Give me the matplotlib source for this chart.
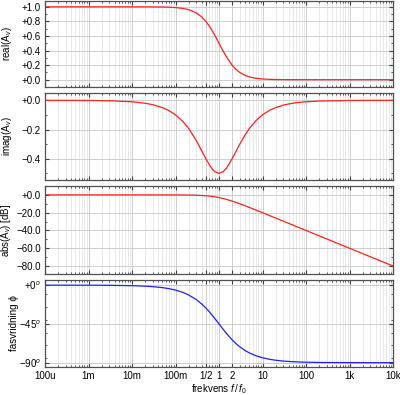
import numpy as np
import matplotlib
matplotlib.use('Agg')
import matplotlib.pyplot as plt
from matplotlib.ticker import FixedLocator, LogLocator, NullFormatter

plt.rcParams['font.family'] = ['Liberation Sans', 'DejaVu Sans']
plt.rcParams['font.size'] = 7.5
plt.rcParams['mathtext.fontset'] = 'custom'
plt.rcParams['mathtext.it'] = 'Liberation Sans:italic'
plt.rcParams['mathtext.rm'] = 'Liberation Sans'

# frequency f/f0 and values
freq = [1e-4, 1e-3, 0.003, 0.01, 0.02, 0.03, 0.05, 0.07, 0.1, 0.15, 0.2, 0.3, 0.4, 0.5,
        0.6, 0.7, 0.8, 1.0, 1.25, 1.5, 2, 2.5, 3, 4, 5, 7, 10, 15, 20, 30, 40, 50, 70,
        100, 200, 1000, 1e4]
real_av = [1.000, 1.000, 1.000, 0.9999, 0.9996, 0.9991, 0.9975, 0.9951, 0.990, 0.978,
           0.962, 0.917, 0.862, 0.800, 0.735, 0.671, 0.610, 0.500, 0.390, 0.308, 0.200,
           0.138, 0.100, 0.0588, 0.0385, 0.020, 0.0099, 0.0044, 0.0025, 0.0011, 0.0006,
           0.0004, 0.0002, 0.0001, 0.0, 0.0, 0.0]
imag_av = [-0.0001, -0.001, -0.003, -0.010, -0.020, -0.030, -0.0499, -0.0697, -0.099,
           -0.147, -0.192, -0.275, -0.345, -0.400, -0.441, -0.470, -0.488, -0.500,
           -0.488, -0.462, -0.400, -0.345, -0.300, -0.235, -0.192, -0.140, -0.099,
           -0.066, -0.050, -0.033, -0.025, -0.020, -0.0143, -0.010, -0.005, -0.001,
           -0.0001]
abs_db = [0.0, 0.0, 0.0, -0.0004, -0.0017, -0.0039, -0.011, -0.0212, -0.043, -0.097,
          -0.170, -0.374, -0.645, -0.969, -1.335, -1.73, -2.15, -3.01, -4.09, -5.12,
          -6.99, -8.60, -10.0, -12.30, -14.15, -16.99, -20.04, -23.54, -26.03, -29.55,
          -32.04, -33.98, -36.90, -40.0, -46.02, -60.0, -80.0]
phase = [-0.006, -0.06, -0.17, -0.57, -1.15, -1.72, -2.86, -4.00, -5.71, -8.53, -11.31,
         -16.70, -21.80, -26.57, -30.96, -34.99, -38.66, -45.0, -51.34, -56.31, -63.43,
         -68.20, -71.57, -75.96, -78.69, -81.87, -84.29, -86.19, -87.14, -88.09, -88.57,
         -88.85, -89.18, -89.43, -89.71, -89.94, -89.99]

xticks = [1e-4, 1e-3, 1e-2, 0.1, 0.5, 1, 2, 10, 100, 1000, 1e4]
xticklabels = ['100u', '1m', '10m', '100m', '1/2', '1', '2', '10', '100', '1k', '10k']

panels = [
    (real_av, '#ff2020', 'real(A$_v$)', (-0.1, 1.08),
     [0.0, 0.2, 0.4, 0.6, 0.8, 1.0], ['+0.0', '+0.2', '+0.4', '+0.6', '+0.8', '+1.0'], 0.1, 14),
    (imag_av, '#ff2020', 'imag(A$_v$)', (-0.545, 0.05),
     [-0.4, -0.2, 0.0], ['\u22120.4', '\u22120.2', '+0.0'], 0.1, 14.5),
    (abs_db, '#ff2020', 'abs(A$_v$) [dB]', (-89, 10),
     [-80, -60, -40, -20, 0], ['\u221280.0', '\u221260.0', '\u221240.0', '\u221220.0', '+0.0'], 10, 13),
    (phase, '#2020ff', 'fasvridning \u03d5', (-95, 6),
     [-90, -45, 0], ['\u221290$^o$', '\u221245$^o$', '+0$^o$'], 15, 19),
]

fig = plt.figure(figsize=(4.0, 3.95), dpi=100)
H = 395.0
rows = [(1, 87), (93, 180), (186, 274), (280, 367)]
left, right = 45, 393

for (top, bot), (vals, col, lab, ylim, yt, ytl, ymin, labx) in zip(rows, panels):
    ax = fig.add_axes([left / 400, (H - bot) / H, (right - left) / 400, (bot - top) / H])
    ax.plot(freq, vals, color=col, lw=0.9)
    ax.set_xscale('log')
    ax.set_xlim(1e-4, 1e4)
    ax.set_ylim(*ylim)
    ax.set_yticks(yt)
    ax.set_yticklabels(ytl)
    ax.yaxis.set_minor_locator(FixedLocator(np.arange(-100, 1.2, ymin)))
    ax.set_xticks(xticks)
    ax.xaxis.set_minor_locator(LogLocator(base=10, subs=np.arange(2, 10), numticks=20))
    ax.xaxis.set_minor_formatter(NullFormatter())
    ax.grid(True, which='major', color='#c8c8c8', lw=0.6)
    ax.grid(True, which='minor', axis='x', color='#e0e0e0', lw=0.5)
    ax.set_axisbelow(True)
    ax.tick_params(which='both', direction='in', top=True, right=True, colors='#404040',
                   labelcolor='black', labelsize=7, pad=3)
    ax.tick_params(which='major', length=3)
    ax.tick_params(which='minor', length=1.5)
    for s in ax.spines.values():
        s.set_color('#505050')
        s.set_linewidth(0.9)
    ax.set_ylabel(lab, fontsize=6.9 if labx == 13 else 7.1)
    ax.yaxis.set_label_coords((labx - left) / (right - left), 0.5)
    if top < 270:
        ax.set_xticklabels([])
    else:
        ax.set_xticklabels(xticklabels)
        ax.set_xlabel('frekvens $f\\,/\\,f_0$', fontsize=7, labelpad=1)

plt.savefig('out.png', dpi=100)
